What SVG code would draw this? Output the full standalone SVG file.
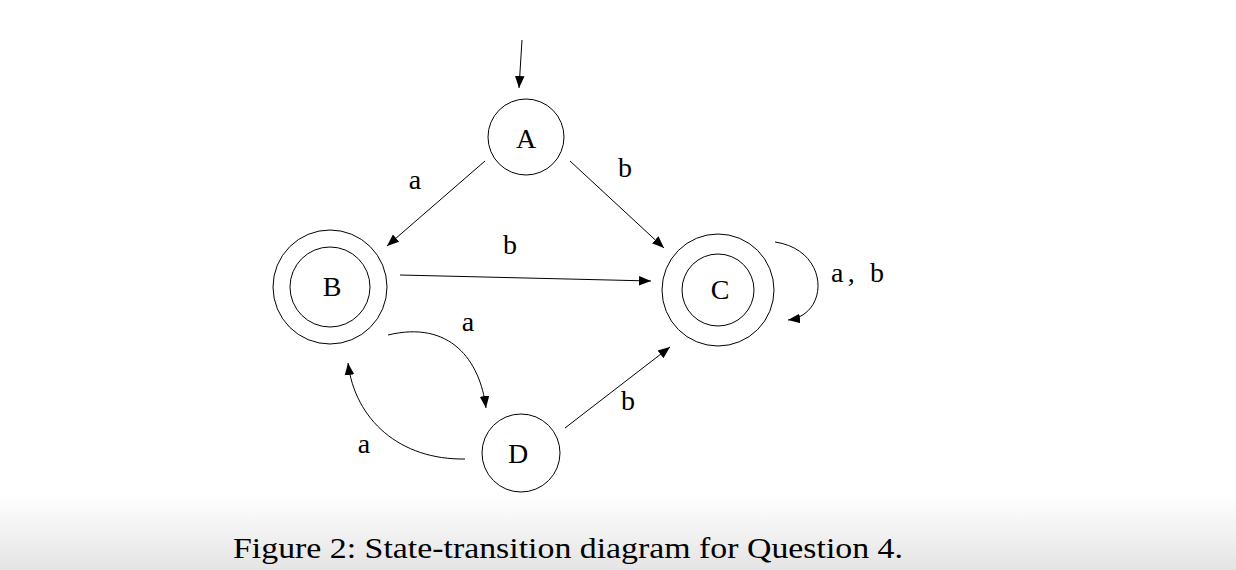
<svg xmlns="http://www.w3.org/2000/svg" width="1236" height="570" viewBox="0 0 1236 570">
<defs>
<linearGradient id="bg" x1="0" y1="0" x2="0" y2="1"><stop offset="0" stop-color="#ffffff"/><stop offset="1" stop-color="#e4e4e4"/></linearGradient>
<marker id="ar" viewBox="0 0 10 10" refX="10" refY="5" markerWidth="12" markerHeight="12" markerUnits="userSpaceOnUse" orient="auto"><path d="M0,1 L10,5 L0,9 z" fill="#000"/></marker>
<style>
.n{fill:none;stroke:#000;stroke-width:1}
.e{fill:none;stroke:#000;stroke-width:1;marker-end:url(#ar)}
text{font-family:"Liberation Serif",serif;font-size:28px;fill:#000}
.lb{text-anchor:middle}
</style>
</defs>
<rect width="1236" height="570" fill="#fff"/>
<rect y="495" width="1236" height="75" fill="url(#bg)"/>
<g id="A"><circle class="n" cx="526" cy="137" r="38"/><text class="lb" x="526" y="148">A</text></g>
<g id="B"><circle class="n" cx="330" cy="287" r="57"/><circle class="n" cx="330" cy="287" r="40"/><text class="lb" x="332" y="296">B</text></g>
<g id="C"><circle class="n" cx="718" cy="290" r="56"/><circle class="n" cx="718" cy="290" r="36"/><text class="lb" x="720" y="299">C</text></g>
<g id="D"><circle class="n" cx="521" cy="453" r="39"/><text class="lb" x="518" y="463">D</text></g>
<g id="edges">
<path class="e" d="M522,40 L519,88"/>
<path class="e" d="M485,161 L387,246"/>
<path class="e" d="M570,161 L664,248"/>
<path class="e" d="M400,275 L651,281"/>
<path class="e" d="M388,335 C450,320 480,360 486,408"/>
<path class="e" d="M565,428 L670,347"/>
<path class="e" d="M465,459 C400,460 355,420 348,363"/>
<path class="e" d="M775,242 C830,250 830,315 788,320"/>
</g>
<g id="labels">
<text class="lb" x="415" y="189">a</text>
<text class="lb" x="625" y="177">b</text>
<text class="lb" x="510" y="254">b</text>
<text class="lb" x="468" y="331">a</text>
<text class="lb" x="628" y="410">b</text>
<text class="lb" x="364" y="453">a</text>
<text x="831" y="282" textLength="53">a, b</text>
</g>
<text x="233" y="558" textLength="670" lengthAdjust="spacingAndGlyphs" style="font-size:30px">Figure 2: State-transition diagram for Question 4.</text>
</svg>
